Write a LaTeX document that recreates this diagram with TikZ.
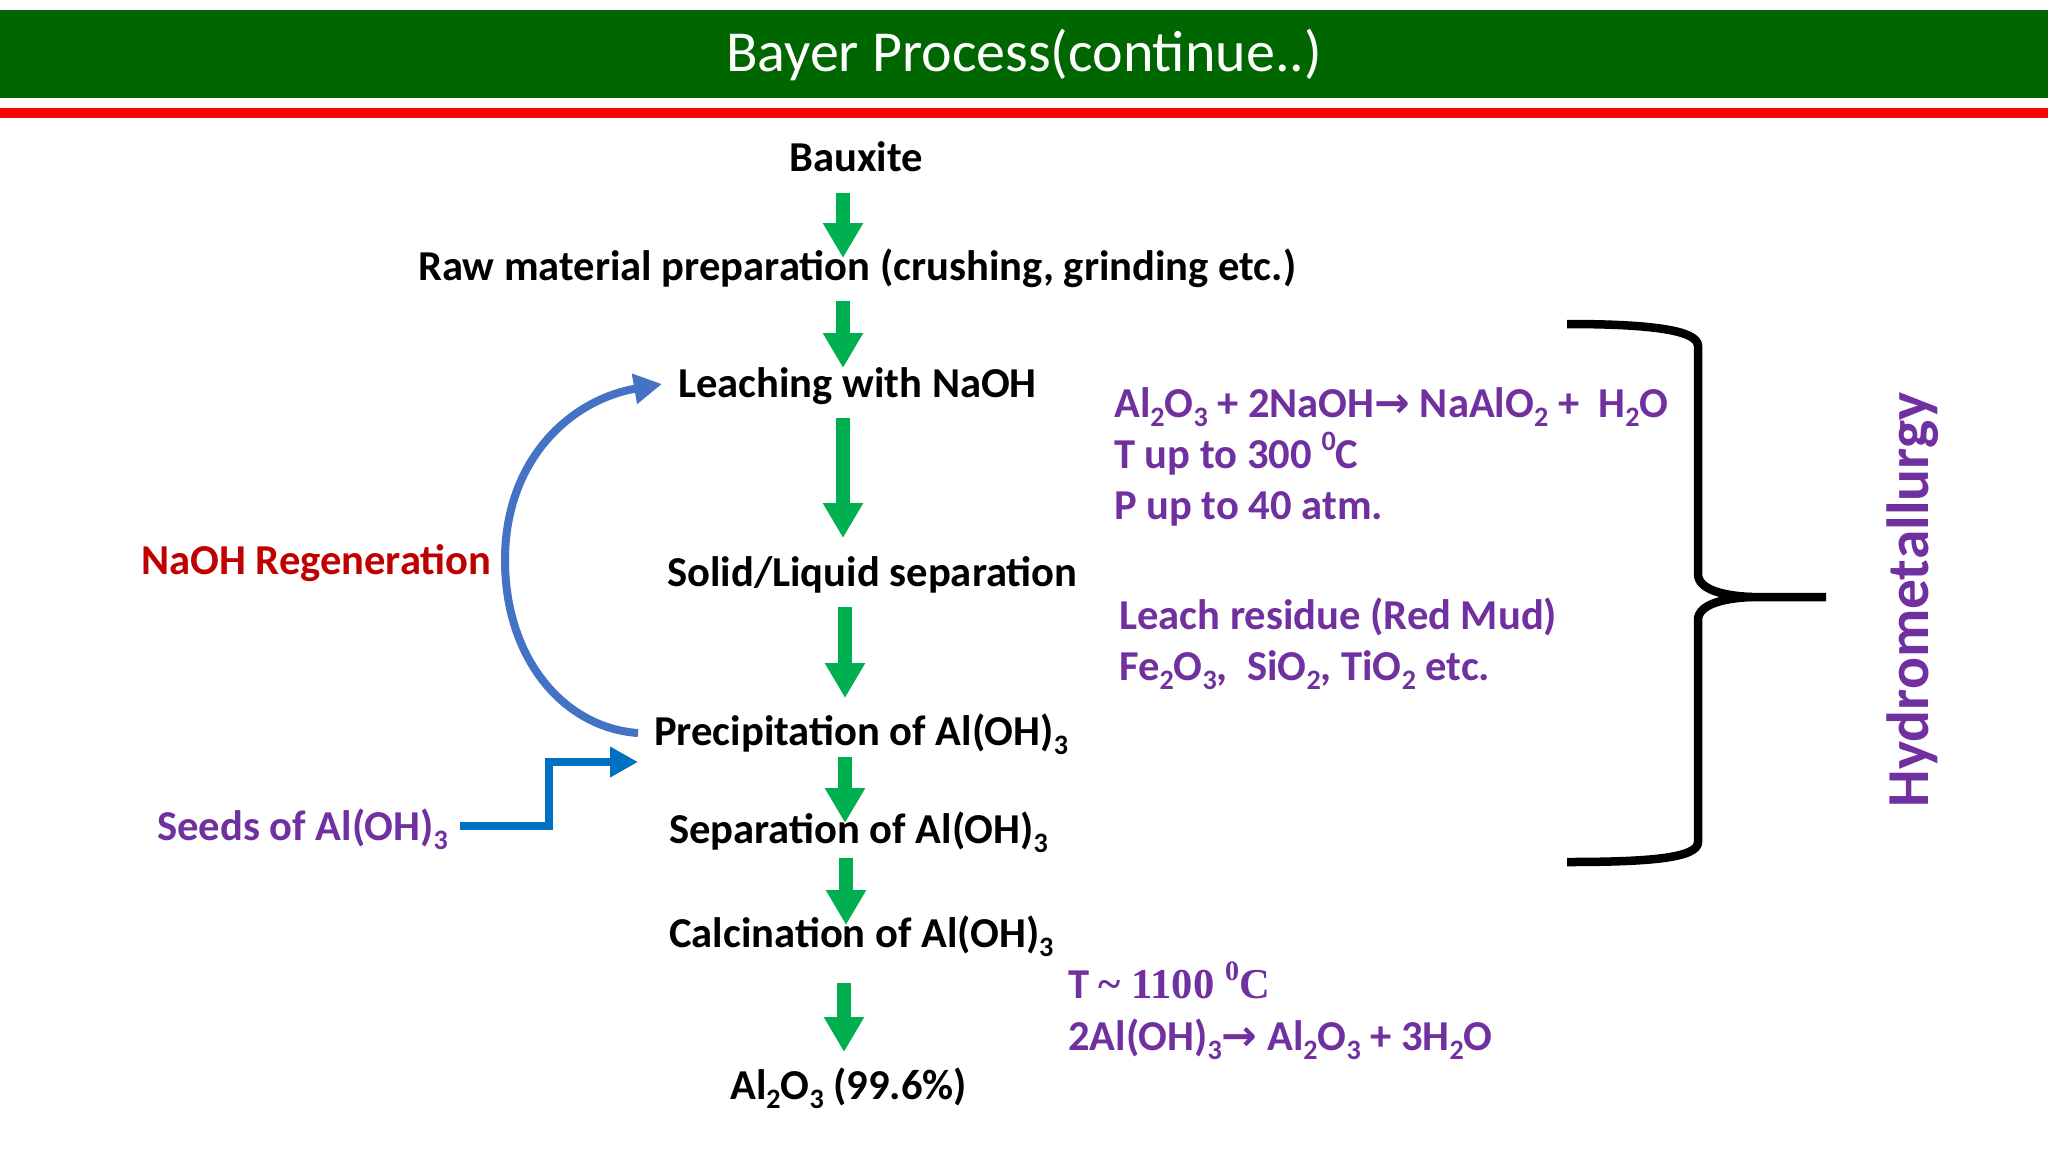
\documentclass[tikz,border=0pt]{standalone}
\usepackage{fontspec}
\setmainfont{Carlito}
\newfontfamily\timesf{Liberation Serif}
\newfontfamily\dejavu{DejaVu Sans}
\usetikzlibrary{arrows.meta}
\definecolor{barGreen}{HTML}{006600}
\definecolor{barRed}{HTML}{FF0000}
\definecolor{flowGreen}{HTML}{00B050}
\definecolor{regenBlue}{HTML}{4472C4}
\definecolor{seedBlue}{HTML}{0070C0}
\definecolor{chemPurple}{HTML}{7030A0}
\definecolor{regenRed}{HTML}{C00000}
\newcommand\sbs[1]{\raisebox{-0.22em}{\scalebox{0.66}{#1}}}
\newcommand\sps[1]{\raisebox{0.42em}{\scalebox{0.66}{#1}}}
\newcommand\rarr{{\dejavu\bfseries →}}
\begin{document}
\begin{tikzpicture}[x=1pt,y=-1pt,
  lbl/.style={inner sep=0pt, anchor=base west, font=\fontsize{42.6}{50}\selectfont\bfseries},
  chem/.style={lbl, text=chemPurple},
  titletext/.style={inner sep=0pt, anchor=base, text=white, font=\fontsize{58}{66}\selectfont},
  garrow/.style={draw=flowGreen, line width=14pt, -{Triangle[width=38pt,length=35pt]}},
  regen/.style={draw=regenBlue, line width=8pt, -{Triangle[width=29pt,length=28pt]}},
  seed/.style={draw=seedBlue, line width=8.5pt, line join=miter, -{Triangle[width=29pt,length=28pt]}},
  bracestyle/.style={draw=black, line width=8.5pt, line join=miter}
]
\useasboundingbox (0,0) rectangle (2048,1152);
\fill[white] (0,0) rectangle (2048,1152);
\fill[barGreen] (0,10) rectangle (2048,98);
\fill[barRed] (0,108) rectangle (2048,118);
\node[titletext] (title) at (1024,71) {Bayer Process(continue..)};

% main flow
\node[lbl] (bauxite) at (789,171) {Bauxite};
\node[lbl] (raw) at (418,280) {Raw material preparation (crushing, grinding etc.)};
\node[lbl] (leach) at (678,397) {Leaching with NaOH};
\node[lbl] (solid) at (667,586) {Solid/Liquid separation};
\node[lbl] (precip) at (654,745) {Precipitation of Al(OH)\sbs{3}};
\node[lbl] (sep) at (669,843) {Separation of Al(OH)\sbs{3}};
\node[lbl] (calc) at (669,947) {Calcination of Al(OH)\sbs{3}};
\node[lbl] (alumina) at (730,1099) {Al\sbs{2}O\sbs{3} (99.6\%)};

% side labels
\node[lbl, text=regenRed] (regenlbl) at (141,574) {NaOH Regeneration};
\node[chem] (seeds) at (157,840) {Seeds of Al(OH)\sbs{3}};

% chemistry notes
\node[chem] (eq1) at (1114,417) {Al\sbs{2}O\sbs{3} + 2NaOH\rarr{} NaAlO\sbs{2} +\ \ H\sbs{2}O};
\node[chem] (temp1) at (1114,468) {T up to 300 \sps{0}C};
\node[chem] (pres1) at (1114,519) {P up to 40 atm.};
\node[chem] (resid) at (1119,629) {Leach residue (Red Mud)};
\node[chem] (oxides) at (1119,680) {Fe\sbs{2}O\sbs{3},\ \ SiO\sbs{2}, TiO\sbs{2} etc.};
\node[chem] (temp2) at (1068,998) {T {\timesf\bfseries\textasciitilde\ 1100 \sps{0}C}};
\node[chem] (eq2) at (1068,1050) {2Al(OH)\sbs{3}\rarr{} Al\sbs{2}O\sbs{3} + 3H\sbs{2}O};

\node[inner sep=0pt, anchor=base, rotate=90, text=chemPurple, font=\fontsize{59.5}{66}\selectfont\bfseries] (hydro) at (1928,600) {Hydrometallurgy};

% green flow arrows
\coordinate (a1s) at (843,193); \coordinate (a1e) at (843,258);
\coordinate (a2s) at (843,301); \coordinate (a2e) at (843,368);
\coordinate (a3s) at (843,418); \coordinate (a3e) at (843,538);
\coordinate (a4s) at (845,607); \coordinate (a4e) at (845,698);
\coordinate (a5s) at (845,757); \coordinate (a5e) at (845,823);
\coordinate (a6s) at (846,858); \coordinate (a6e) at (846,925);
\coordinate (a7s) at (844,983); \coordinate (a7e) at (844,1052);
\foreach \i in {1,...,7} { \draw[garrow] (a\i s) -- (a\i e); }

% NaOH regeneration loop
\coordinate (rgS) at (638,733);
\coordinate (rgE) at (662,384);
\draw[regen] (rgS) .. controls (565,728) and (505,660) .. (505,560) .. controls (505,460) and (570,400) .. (rgE);

% seeds elbow arrow
\coordinate (sdS) at (460,826);
\coordinate (sdE) at (638,762);
\draw[seed] (sdS) -- (549,826) -- (549,762) -- (sdE);

% brace
\draw[bracestyle] (1567,324) .. controls (1650,324) and (1698,330) .. (1698,346) -- (1698,574) .. controls (1698,590) and (1725,596) .. (1752,597) -- (1826,597);
\draw[bracestyle] (1752,597) .. controls (1725,598) and (1698,604) .. (1698,620) -- (1698,842) .. controls (1698,858) and (1650,862) .. (1567,862);
\end{tikzpicture}
\end{document}
